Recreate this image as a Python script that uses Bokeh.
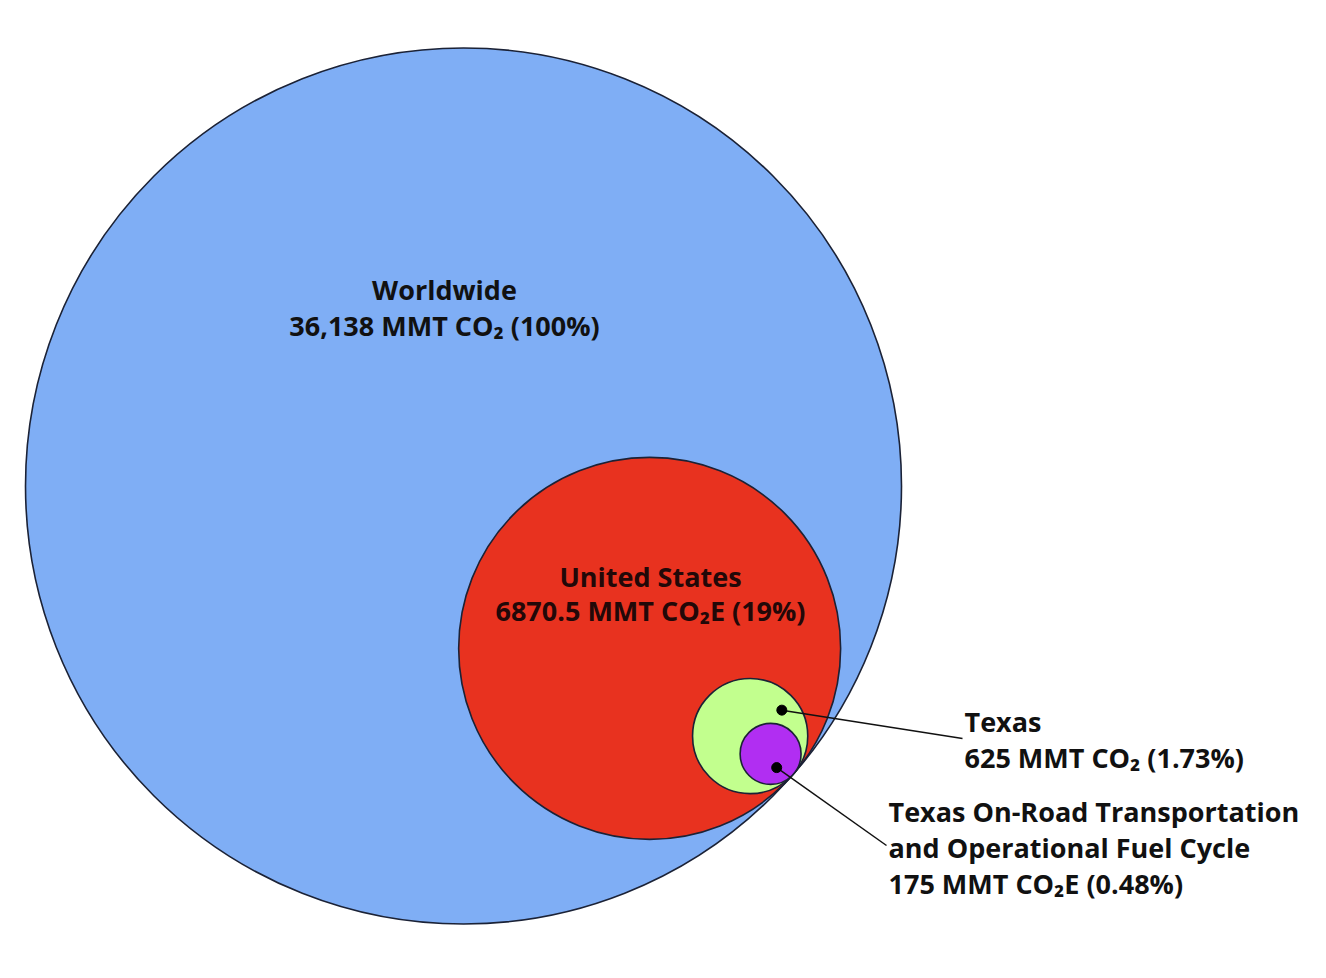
import math
from bokeh.plotting import figure
from bokeh.models import Range1d
from bokeh.core.properties import value
from bokeh.embed import file_html
from bokeh.resources import INLINE

# ---- data ----
names = ["Worldwide", "United States", "Texas", "Texas On-Road Transportation"]
name_line2 = ["", "", "", "and Operational Fuel Cycle"]
emissions = [36138, 6870.5, 625, 175]
value_labels = ["36,138", "6870.5", "625", "175"]
units = ["MMT CO\u2082", "MMT CO\u2082E", "MMT CO\u2082", "MMT CO\u2082E"]
shares = ["100%", "19%", "1.73%", "0.48%"]
fills = ["#7FAEF5", "#E8321F", "#C2FF8E", "#B12EF2"]

# ---- layout ----
W, H = 1310, 962
FONT = "Open Sans"
cx0, cy0, R0 = 463.0, 485.5, 438.0     # outer circle centre / radius (page px)
ang = math.radians(41.1)               # direction of common tangency point
ux, uy = math.cos(ang), math.sin(ang)
tx, ty = cx0 + R0 * ux, cy0 + R0 * uy

radii = [R0 * math.sqrt(v / emissions[0]) for v in emissions]
cxs = [tx - r * ux for r in radii]
cys = [ty - r * uy for r in radii]

p = figure(width=W, height=H, output_backend="svg", toolbar_location=None,
           x_range=Range1d(0, W), y_range=Range1d(H, 0),
           x_axis_type=None, y_axis_type=None, min_border=0)
p.outline_line_color = None
p.grid.visible = False
p.background_fill_color = "white"

p.circle(x=cxs, y=cys, radius=radii, fill_color=fills, line_color="#1B2236",
         line_width=1.6, fill_alpha=1.0)

# anchor dots inside the two small circles
dot_x = [cxs[2] + 0.55 * radii[2], cxs[3] + 0.2 * radii[3]]
dot_y = [cys[2] - 0.45 * radii[2], cys[3] + 0.45 * radii[3]]
lab_x = [962, 886]
lab_y = [738, 845]
for i in range(2):
    p.line([dot_x[i], lab_x[i]], [dot_y[i], lab_y[i]], line_color="#111111", line_width=1.5)
p.scatter(dot_x, dot_y, size=10, color="#000000")

fs = "27px"
col = "#111111"

def txt(x, y, s, align="center", color=col):
    p.text(x=[x], y=[y], text=[s], text_font=value(FONT), text_font_style="bold",
           text_font_size=fs, text_align=align, text_baseline="middle", text_color=color)

# Worldwide
txt(444, 289, names[0])
txt(444, 325, f"{value_labels[0]} {units[0]} ({shares[0]})")
# United States
txt(650, 576, names[1], color="#220808")
txt(650, 610, f"{value_labels[1]} {units[1]} ({shares[1]})", color="#220808")
# Texas
txt(964, 721, names[2], align="left")
txt(964, 757, f"{value_labels[2]} {units[2]} ({shares[2]})", align="left")
# Texas on-road
txt(888, 811, names[3], align="left")
txt(888, 847, name_line2[3], align="left")
txt(888, 883, f"{value_labels[3]} {units[3]} ({shares[3]})", align="left")

open("out.html", "w").write(file_html(p, INLINE))
